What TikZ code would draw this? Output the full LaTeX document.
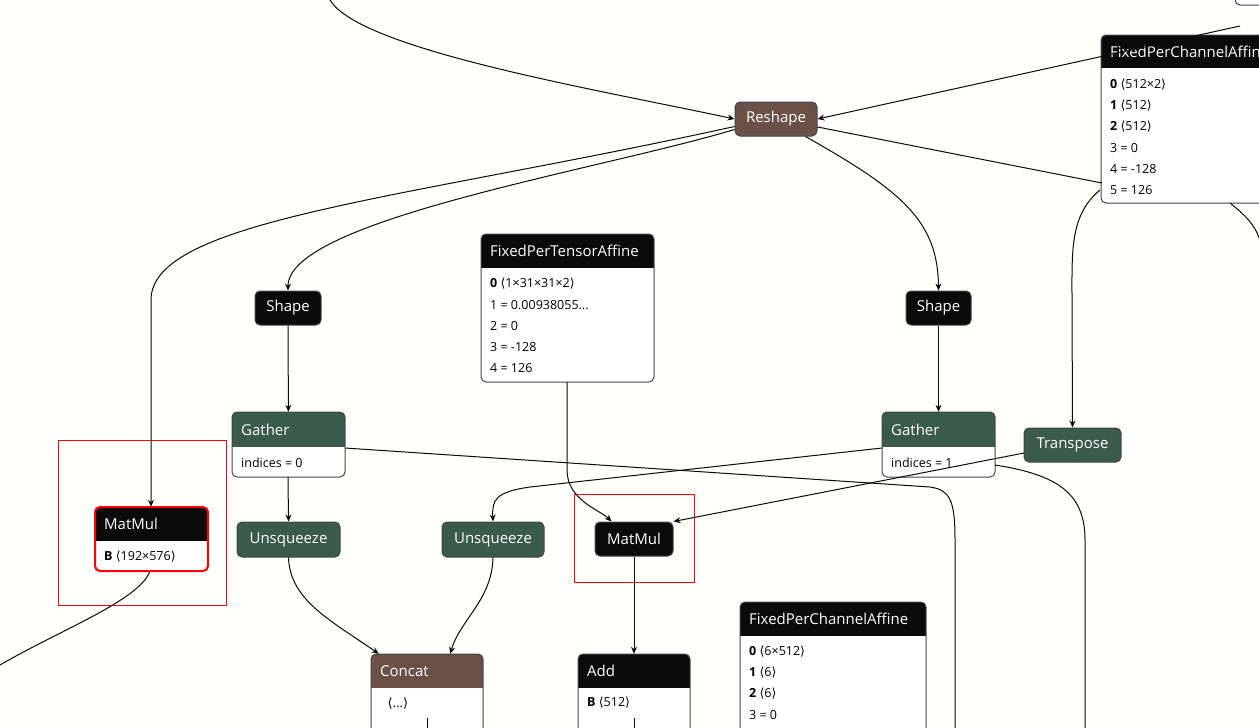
\documentclass[tikz,border=0pt]{standalone}
\usepackage{fontspec}
\setmainfont{Open Sans}
\newfontfamily\dv{DejaVu Sans}
\usetikzlibrary{fit,calc,arrows.meta}
\definecolor{bg}{HTML}{FFFFFD}
\definecolor{brn}{HTML}{6B5048}
\definecolor{grn}{HTML}{3A5A4B}
\definecolor{blk}{HTML}{0A0A0A}
\definecolor{edg}{HTML}{444444}
\newcommand\la{{\dv\char"27E8}}
\newcommand\ra{{\dv\char"27E9}}
% name x1 y1 x2 yh y2 color title
\newcommand\gbox[8]{%
 \fill[white,rounded corners=5pt] (#2,#3) rectangle (#4,#6);
 \begin{scope}\clip[rounded corners=5pt] (#2,#3) rectangle (#4,#6);
 \fill[#7] (#2,#3) rectangle (#4,#5);\end{scope}
 \draw[rounded corners=5pt,edg,line width=1pt] (#2,#3) rectangle (#4,#6);
 \coordinate (#1-a) at (#2,#3);\coordinate (#1-b) at (#4,#6);
 \node[fit=(#1-a)(#1-b),inner sep=0pt] (#1) {};
 \node[anchor=west,text=white,font=\fontsize{15}{15}\selectfont,inner sep=0pt] at ({#2+9},{(#3+#5)/2}) {#8};}
\newcommand\smbox[7]{% name x1 y1 x2 y2 color title
 \node[fill=#6,draw=edg,line width=1pt,rounded corners=5pt,inner sep=0pt,text=white,
 minimum width={#4-#2},minimum height={#5-#3},font=\fontsize{15}{15}\selectfont] (#1) at ({(#2+#4)/2},{(#3+#5)/2}) {#7};}
\newcommand\row[3]{\node[anchor=west,inner sep=0pt,font=\fontsize{12.5}{13}\selectfont] at (#1,#2) {#3};}
\tikzset{arr/.style={-{Stealth[length=7pt,width=6pt]},line width=1pt,blk},ln/.style={line width=1pt,blk}}
\begin{document}
\begin{tikzpicture}[x=1pt,y=-1pt]
\fill[bg] (0,0) rectangle (1259,728);
\useasboundingbox (0,0) rectangle (1259,728);
% nodes
\smbox{resh}{735}{102}{817}{136}{brn}{Reshape}
\smbox{shl}{255}{291}{321}{325}{blk}{Shape}
\smbox{shr}{906}{291}{971}{325}{blk}{Shape}
\smbox{tr}{1024}{428}{1121}{462}{grn}{Transpose}
\smbox{ul}{237}{522}{340}{557}{grn}{Unsqueeze}
\smbox{ur}{442}{522}{544}{557}{grn}{Unsqueeze}
\smbox{mm}{595}{522}{673}{556}{blk}{MatMul}
\draw[edg,line width=1pt,rounded corners=5pt,fill=white] (1235,-10) rectangle (1270,5);
\gbox{fpc}{1101}{35}{1275}{68}{203}{blk}{FixedPerChannelAffine}
\row{1110}{85}{\textbf{0} \la512×2\ra}\row{1110}{106}{\textbf{1} \la512\ra}\row{1110}{127}{\textbf{2} \la512\ra}
\row{1110}{148}{3 = 0}\row{1110}{169}{4 = -128}\row{1110}{190}{5 = 126}
\gbox{fpt}{481}{234}{654}{268}{382}{blk}{FixedPerTensorAffine}
\row{490}{284}{\textbf{0} \la1×31×31×2\ra}\row{490}{305}{1 = 0.00938055...}\row{490}{326}{2 = 0}\row{490}{347}{3 = -128}\row{490}{368}{4 = 126}
\gbox{gl}{232}{412}{345}{447}{477}{grn}{Gather}\row{241}{463}{indices = 0}
\gbox{gr}{882}{412}{995}{447}{477}{grn}{Gather}\row{891}{463}{indices = 1}
\gbox{mml}{95}{507}{208}{541}{571}{blk}{MatMul}\row{104}{557}{\textbf{B} \la192×576\ra}
\draw[red,line width=2pt,rounded corners=5pt] (95,507) rectangle (208,571);
\draw[red,line width=0.8pt] (58,440) rectangle (226,605);
\draw[red,line width=0.8pt] (574,494) rectangle (694,582);
\gbox{fpc2}{740}{602}{926}{636}{740}{blk}{FixedPerChannelAffine}
\row{749}{652}{\textbf{0} \la6×512\ra}\row{749}{673}{\textbf{1} \la6\ra}\row{749}{694}{\textbf{2} \la6\ra}\row{749}{715}{3 = 0}
\gbox{cc}{371}{654}{483}{688}{740}{brn}{Concat}\node[font=\fontsize{13}{13}\selectfont] at (398,703) {\la...\ra};
\gbox{add}{578}{654}{690}{688}{740}{blk}{Add}\row{587}{703}{\textbf{B} \la512\ra}
% edges
\coordinate (t1) at (330,0);\coordinate (t2) at (1240,26);
\draw[arr] (t1) .. controls (360,50) and (600,90) .. (resh.west);
\draw[arr] (t2) -- (resh.east);
\draw[arr] ($(resh.south west)+(0,-10)$) .. controls (400,200) and (151,220) .. (151,300) -- (mml.north -| 151,0);
\draw[arr] ($(resh.south west)+(0,-7)$) .. controls (600,170) and (288,220) .. (shl.north);
\draw[arr] ($(resh.south east)+(-12,0)$) .. controls (900,190) and (938,220) .. (shr.north);
\coordinate (o1) at (1259,238);
\draw[ln] ($(resh.east)+(0,8)$) -- (1102,183);
\draw[ln] (1230,203) .. controls (1245,215) and (1255,225) .. (o1);
\draw[arr] (1100,190) .. controls (1070,215) and (1072,250) .. (1072,300) -- (tr.north);
\draw[arr] (shl) -- (gl);
\draw[arr] (gl.south -| 288,0) -- (ul.north);
\draw[arr] (shr) -- (gr);
\coordinate (o2) at (955,728);\coordinate (o3) at (1085,728);
\draw[ln] (345,448) -- (930,487) .. controls (950,490) and (955,500) .. (955,540) -- (o2);
\draw[ln] (995,465) .. controls (1060,475) and (1085,495) .. (1085,540) -- (o3);
\draw[arr] (882,448) -- (530,487) .. controls (495,492) and (492,500) .. (ur.north);
\draw[arr] (1024,453) -- (mm.north east);
\draw[arr] (567,382) -- (567,470) .. controls (567,500) and (600,510) .. ($(mm.north west)+(17,0)$);
\coordinate (o4) at (0,665);
\draw[ln] (150,571) .. controls (140,600) and (60,630) .. (o4);
\draw[arr] (ul.south) .. controls (290,600) and (330,620) .. ($(cc.north west)+(8,0)$);
\draw[arr] (ur.south) .. controls (492,600) and (460,620) .. ($(cc.north east)+(-33,0)$);
\draw[arr] (mm.south) -- (add.north -| mm.south);
\coordinate (o5) at (427,728);\coordinate (o6) at (634,728);
\draw[ln] (427,718) -- (o5);\draw[ln] (634,718) -- (o6);
\end{tikzpicture}
\end{document}
